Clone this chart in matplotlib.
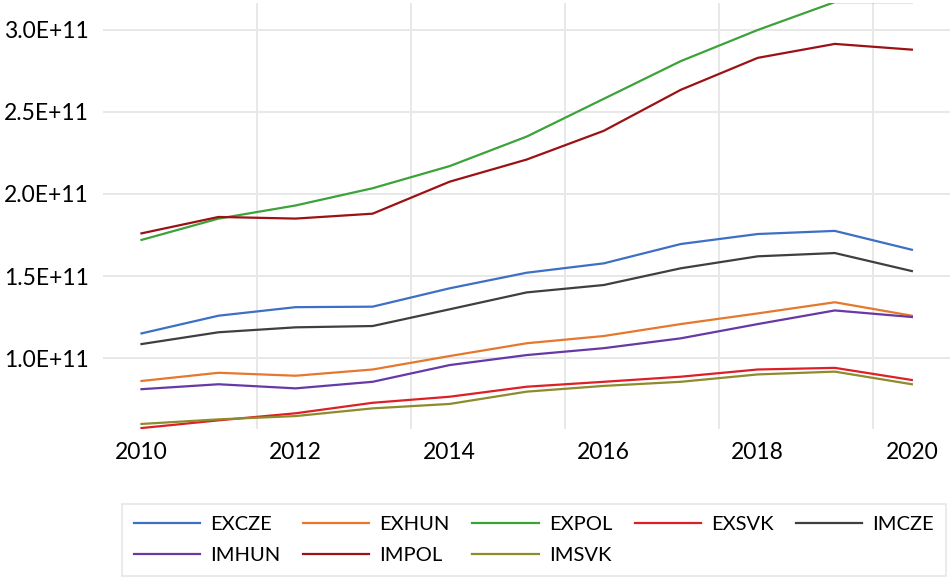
import matplotlib
matplotlib.use("Agg")
import matplotlib.pyplot as plt
from matplotlib.ticker import FuncFormatter, FixedLocator

plt.rcParams['font.family'] = ['Lato', 'DejaVu Sans']

years = list(range(2010, 2021))

# values in units of 1E+11
excze = [1.15, 1.258, 1.31, 1.313, 1.425, 1.52, 1.577, 1.695, 1.756, 1.775, 1.66]
exhun = [0.86, 0.91, 0.892, 0.93, 1.012, 1.09, 1.134, 1.207, 1.272, 1.34, 1.258]
expol = [1.72, 1.85, 1.93, 2.035, 2.17, 2.35, 2.58, 2.81, 3.00, 3.17, 3.17]
exsvk = [0.573, 0.62, 0.663, 0.727, 0.764, 0.825, 0.855, 0.886, 0.93, 0.94, 0.866]
imcze = [1.085, 1.157, 1.187, 1.195, 1.297, 1.40, 1.445, 1.547, 1.62, 1.64, 1.53]
imhun = [0.81, 0.84, 0.815, 0.855, 0.957, 1.018, 1.06, 1.12, 1.207, 1.29, 1.25]
impol = [1.76, 1.86, 1.85, 1.88, 2.075, 2.21, 2.385, 2.635, 2.83, 2.915, 2.88]
imsvk = [0.598, 0.626, 0.646, 0.693, 0.72, 0.795, 0.83, 0.855, 0.90, 0.917, 0.84]

series = [
    ("EXCZE", excze, "#3d6fc4"),
    ("EXHUN", exhun, "#e5782d"),
    ("EXPOL", expol, "#3ca23a"),
    ("EXSVK", exsvk, "#dd2027"),
    ("IMCZE", imcze, "#3f3f3f"),
    ("IMHUN", imhun, "#6738a6"),
    ("IMPOL", impol, "#9b1114"),
    ("IMSVK", imsvk, "#8c8c2c"),
]

fig = plt.figure(figsize=(9.5, 5.79), dpi=100)
axis = fig.add_axes([0.1084, 0.259, 0.892, 0.736])

lines = {}
for name, vals, color in series:
    lines[name], = axis.plot(years, [v * 1e11 for v in vals], color=color, linewidth=1.6, label=name)

axis.set_xlim(2009.5, 2020.5)
axis.set_ylim(0.567e11, 3.165e11)

axis.set_yticks([1.0e11, 1.5e11, 2.0e11, 2.5e11, 3.0e11])
axis.yaxis.set_major_formatter(FuncFormatter(lambda v, p: f"{v / 1e11:.1f}E+11"))
axis.set_xticks([2010, 2012, 2014, 2016, 2018, 2020])
axis.xaxis.set_minor_locator(FixedLocator([2011.5, 2013.5, 2015.5, 2017.5, 2019.5]))

axis.grid(True, which='major', axis='y', color='#e8e8e8', linewidth=1.4)
axis.grid(True, which='minor', axis='x', color='#e8e8e8', linewidth=1.4)
axis.set_axisbelow(True)
axis.tick_params(which='both', length=0, labelsize=16.5)
axis.tick_params(axis='y', pad=10)
axis.tick_params(axis='x', pad=9)
for s in axis.spines.values():
    s.set_visible(False)

# legend is filled column by column, so order the entries to read row by row
order = ["EXCZE", "IMHUN", "EXHUN", "IMPOL", "EXPOL", "IMSVK", "EXSVK", "IMCZE"]
leg = fig.legend([lines[n] for n in order], order,
                 loc='lower left', bbox_to_anchor=(0.128, 0.005, 0.868, 0.135),
                 mode='expand', ncol=5, fontsize=14.5, frameon=True, fancybox=False,
                 handlelength=3.3, handletextpad=0.5, borderpad=0.6, borderaxespad=0,
                 labelspacing=0.7, columnspacing=1.0)
leg.get_frame().set_edgecolor('#e0e0e0')
leg.get_frame().set_linewidth(1.2)

fig.savefig("out.png", dpi=100)
